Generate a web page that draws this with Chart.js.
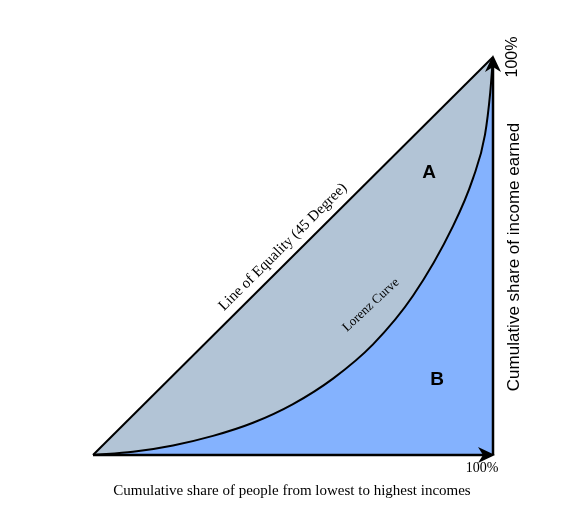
<!DOCTYPE html>
<html>
<head>
<meta charset="utf-8">
<script src="https://cdn.jsdelivr.net/npm/chart.js@4"></script>
<style>
  body { margin: 0; background: #fff; }
  #wrap { width: 577px; height: 506px; }
</style>
</head>
<body>
<div id="wrap"><canvas id="myChart" width="577" height="506"></canvas></div>
<script>
// cumulative share of people (%) and of income (%)
let populationShare = [0, 10, 20, 30, 40, 50, 60, 70, 80, 90, 95, 98, 99.3, 100];
let lorenzShare = [0, 0.8, 2.4, 4.8, 8.1, 12.8, 19.2, 27.8, 40, 57.5, 69.5, 80.5, 91, 100];
let equalityShare = [0, 100];
let equalityPeople = [0, 100];

let xTitle = 'Cumulative share of people from lowest to highest incomes';
let yTitle = 'Cumulative share of income earned';
let endLabel = '100%';
let equalityLabel = 'Line of Equality (45 Degree)';
let curveLabel = 'Lorenz Curve';
let areaLabels = ['A', 'B'];

const lorenzPoints = populationShare.map((p, i) => ({ x: p, y: lorenzShare[i] }));
const equalityPoints = equalityPeople.map((p, i) => ({ x: p, y: equalityShare[i] }));

// arrows and labels
const annotations = {
  id: 'annotations',
  afterDatasetsDraw(chart) {
    const ctx = chart.ctx;
    const xs = chart.scales.x;
    const ys = chart.scales.y;
    const x0 = xs.getPixelForValue(0), x1 = xs.getPixelForValue(100);
    const y0 = ys.getPixelForValue(0), y1 = ys.getPixelForValue(100);

    ctx.save();
    ctx.strokeStyle = '#000';
    ctx.lineWidth = 2.5;
    ctx.beginPath();
    ctx.moveTo(x0, y0); ctx.lineTo(x1 - 4, y0);
    ctx.moveTo(x1, y0); ctx.lineTo(x1, y1 + 4);
    ctx.stroke();

    ctx.fillStyle = '#000';
    // up arrow
    ctx.beginPath();
    ctx.moveTo(x1, y1 - 2);
    ctx.lineTo(x1 + 8, y1 + 15);
    ctx.lineTo(x1, y1 + 10);
    ctx.lineTo(x1 - 8, y1 + 15);
    ctx.closePath();
    ctx.fill();
    // right arrow
    ctx.beginPath();
    ctx.moveTo(x1 + 2, y0);
    ctx.lineTo(x1 - 15, y0 - 8);
    ctx.lineTo(x1 - 10, y0);
    ctx.lineTo(x1 - 15, y0 + 8);
    ctx.closePath();
    ctx.fill();

    ctx.textAlign = 'center';
    ctx.textBaseline = 'middle';
    ctx.font = 'bold 19px "Liberation Sans", Arial, sans-serif';
    ctx.fillText(areaLabels[0], xs.getPixelForValue(84), ys.getPixelForValue(71));
    ctx.fillText(areaLabels[1], xs.getPixelForValue(86), ys.getPixelForValue(19));

    ctx.font = '15px "Liberation Serif", "Times New Roman", serif';
    ctx.save();
    ctx.translate(283, 247);
    ctx.rotate(-Math.atan2(y0 - y1, x1 - x0));
    ctx.fillText(equalityLabel, 0, 0);
    ctx.restore();

    ctx.font = '13px "Liberation Serif", "Times New Roman", serif';
    ctx.save();
    ctx.translate(371, 305);
    ctx.rotate(-43 * Math.PI / 180);
    ctx.fillText(curveLabel, 0, 0);
    ctx.restore();

    ctx.font = '14px "Liberation Serif", "Times New Roman", serif';
    ctx.fillText(endLabel, x1 - 11, y0 + 13);
    ctx.font = '15px "Liberation Serif", "Times New Roman", serif';
    ctx.fillText(xTitle, (x0 + x1) / 2 - 1, 491);

    ctx.font = '16px "Liberation Sans", Arial, sans-serif';
    ctx.save();
    ctx.translate(x1 + 20, y1);
    ctx.rotate(-Math.PI / 2);
    ctx.fillText(endLabel, 0, 0);
    ctx.restore();

    ctx.font = '17px "Liberation Sans", Arial, sans-serif';
    ctx.save();
    ctx.translate(x1 + 21, 257);
    ctx.rotate(-Math.PI / 2);
    ctx.fillText(yTitle, 0, 0);
    ctx.restore();

    ctx.restore();
  }
};

const config = {
  type: 'line',
  data: {
    datasets: [
      {
        label: 'Lorenz Curve',
        data: lorenzPoints,
        borderColor: '#000',
        borderWidth: 2,
        backgroundColor: 'rgb(132, 178, 254)',
        fill: 'origin',
        cubicInterpolationMode: 'monotone',
        pointRadius: 0,
        clip: false
      },
      {
        label: 'Line of Equality',
        data: equalityPoints,
        borderColor: '#000',
        borderWidth: 2,
        backgroundColor: 'rgb(178, 196, 214)',
        fill: 'origin',
        pointRadius: 0,
        clip: false
      }
    ]
  },
  options: {
    responsive: false,
    animation: false,
    layout: { padding: { left: 93, right: 84, top: 57, bottom: 51 } },
    scales: {
      x: { type: 'linear', min: 0, max: 100, display: false },
      y: { type: 'linear', min: 0, max: 100, display: false }
    },
    plugins: {
      legend: { display: false },
      tooltip: { enabled: false }
    }
  },
  plugins: [annotations]
};

let myChart = new Chart(document.getElementById('myChart'), config);
</script>
</body>
</html>
